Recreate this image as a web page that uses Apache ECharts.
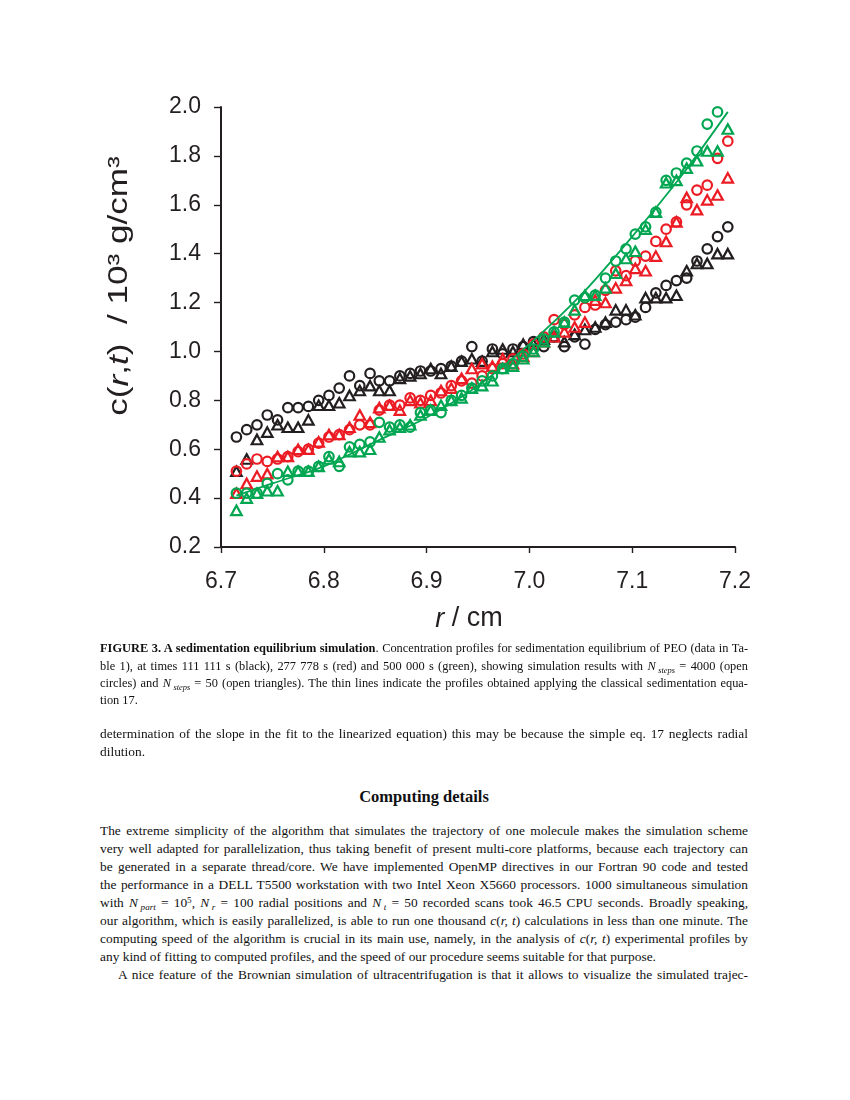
<!DOCTYPE html>
<html><head><meta charset="utf-8">
<script src="https://cdn.jsdelivr.net/npm/echarts@6/dist/echarts.min.js"></script>
<style>
html,body{margin:0;padding:0;background:#fff;}
body{width:850px;height:1100px;position:relative;overflow:hidden;font-family:'Liberation Serif','Times New Roman',serif;color:#111;}
#chart{position:absolute;left:0;top:0;width:850px;height:640px;}
.ln{position:absolute;left:100px;width:648px;height:19px;line-height:19px;white-space:nowrap;}
.cap{font-size:12.4px;}
.bd{font-size:13.4px;}
sub,sup{line-height:0;font-size:0.68em;}
sub{vertical-align:-0.3em;}
sup{vertical-align:0.45em;}
.h{position:absolute;left:100px;width:648px;text-align:center;font-weight:bold;font-size:16.5px;line-height:20px;}
</style></head><body>
<div id="chart"></div>

<div class="ln cap j" style="top:638.5px"><span><b>FIGURE 3. A sedimentation equilibrium simulation</b>. Concentration profiles for sedimentation equilibrium of PEO (data in Ta-</span></div>
<div class="ln cap j" style="top:656.5px"><span>ble 1), at times 111 111 s (black), 277 778 s (red) and 500 000 s (green), showing simulation results with <i>N</i>&#8201;<sub><i>steps</i></sub> = 4000 (open</span></div>
<div class="ln cap j" style="top:673.5px"><span>circles) and <i>N</i>&#8201;<sub><i>steps</i></sub> = 50 (open triangles). The thin lines indicate the profiles obtained applying the classical sedimentation equa-</span></div>
<div class="ln cap" style="top:690.5px"><span>tion 17.</span></div>

<div class="ln bd j" style="top:723.5px"><span>determination of the slope in the fit to the linearized equation) this may be because the simple eq. 17 neglects radial</span></div>
<div class="ln bd" style="top:741.5px"><span>dilution.</span></div>

<div class="h" style="top:787px">Computing details</div>

<div class="ln bd j" style="top:820.5px"><span>The extreme simplicity of the algorithm that simulates the trajectory of one molecule makes the simulation scheme</span></div>
<div class="ln bd j" style="top:838.5px"><span>very well adapted for parallelization, thus taking benefit of present multi-core platforms, because each trajectory can</span></div>
<div class="ln bd j" style="top:856.5px"><span>be generated in a separate thread/core. We have implemented OpenMP directives in our Fortran 90 code and tested</span></div>
<div class="ln bd j" style="top:874.5px"><span>the performance in a DELL T5500 workstation with two Intel Xeon X5660 processors. 1000 simultaneous simulation</span></div>
<div class="ln bd j" style="top:892.5px"><span>with <i>N</i>&#8201;<sub><i>part</i></sub> = 10<sup>5</sup>, <i>N</i>&#8201;<sub><i>r</i></sub> = 100 radial positions and <i>N</i>&#8201;<sub><i>t</i></sub> = 50 recorded scans took 46.5 CPU seconds. Broadly speaking,</span></div>
<div class="ln bd j" style="top:910.5px"><span>our algorithm, which is easily parallelized, is able to run one thousand <i>c</i>(<i>r,</i> <i>t</i>) calculations in less than one minute. The</span></div>
<div class="ln bd j" style="top:928.5px"><span>computing speed of the algorithm is crucial in its main use, namely, in the analysis of <i>c</i>(<i>r,</i> <i>t</i>) experimental profiles by</span></div>
<div class="ln bd" style="top:946.5px"><span>any kind of fitting to computed profiles, and the speed of our procedure seems suitable for that purpose.</span></div>
<div class="ln bd j" style="top:964.5px;left:118px;width:630px"><span>A nice feature of the Brownian simulation of ultracentrifugation is that it allows to visualize the simulated trajec-</span></div>

<script>
// radial positions r (cm) of the simulated points
const r = [6.715,6.725,6.735,6.745,6.755,6.765,6.775,6.785,6.795,6.805,
           6.815,6.825,6.835,6.845,6.854,6.864,6.874,6.884,6.894,6.904,
           6.914,6.924,6.934,6.944,6.954,6.964,6.974,6.984,6.994,7.004,
           7.014,7.024,7.034,7.044,7.054,7.064,7.074,7.084,7.094,7.103,
           7.113,7.123,7.133,7.143,7.153,7.163,7.173,7.183,7.193];

// t = 111 111 s (black)
const blackCircles = [0.65,0.68,0.70,0.74,0.72,0.77,0.77,0.775,0.80,0.82,
                      0.85,0.90,0.86,0.91,0.88,0.88,0.90,0.91,0.92,0.92,
                      0.93,0.94,0.96,1.02,0.96,1.01,0.99,1.01,1.02,1.04,
                      1.02,1.06,1.02,1.06,1.03,1.09,1.11,1.12,1.13,1.14,
                      1.18,1.24,1.27,1.29,1.30,1.37,1.42,1.47,1.51];
const blackTriangles = [0.51,0.56,0.64,0.67,0.70,0.69,0.69,0.72,0.78,0.78,
                        0.79,0.82,0.84,0.86,0.84,0.84,0.89,0.90,0.91,0.93,
                        0.91,0.94,0.96,0.97,0.96,1.00,1.01,1.00,1.03,1.03,
                        1.05,1.06,1.04,1.07,1.09,1.10,1.12,1.17,1.17,1.15,
                        1.22,1.22,1.22,1.23,1.33,1.36,1.36,1.40,1.40];
// t = 277 778 s (red)
const redCircles = [0.51,0.54,0.56,0.55,0.56,0.57,0.59,0.60,0.625,0.65,
                    0.66,0.68,0.70,0.70,0.76,0.78,0.78,0.81,0.80,0.82,
                    0.83,0.86,0.88,0.87,0.90,0.93,0.95,0.97,0.99,1.03,
                    1.06,1.13,1.11,1.15,1.18,1.19,1.25,1.33,1.31,1.37,
                    1.39,1.45,1.50,1.53,1.60,1.66,1.68,1.79,1.86];
const redTriangles = [0.42,0.46,0.49,0.50,0.57,0.57,0.60,0.60,0.63,0.66,
                      0.66,0.69,0.74,0.71,0.77,0.78,0.76,0.80,0.79,0.80,
                      0.84,0.85,0.89,0.93,0.95,0.94,0.97,0.95,0.98,1.00,
                      1.04,1.06,1.08,1.10,1.12,1.21,1.20,1.26,1.29,1.34,
                      1.33,1.39,1.45,1.53,1.63,1.58,1.62,1.64,1.71];
// t = 500 000 s (green)
const greenCircles = [0.42,0.42,0.42,0.46,0.50,0.475,0.51,0.51,0.53,0.57,
                      0.53,0.61,0.62,0.63,0.71,0.69,0.70,0.69,0.75,0.76,
                      0.75,0.80,0.82,0.85,0.88,0.90,0.93,0.95,0.98,1.01,
                      1.05,1.08,1.12,1.21,1.22,1.23,1.30,1.37,1.42,1.48,
                      1.51,1.57,1.70,1.73,1.77,1.82,1.93,1.98,null];
const greenTriangles = [0.35,0.40,0.42,0.43,0.43,0.51,0.51,0.51,0.53,0.56,
                        0.55,0.59,0.59,0.60,0.65,0.68,0.69,0.70,0.74,0.76,
                        0.78,0.80,0.81,0.85,0.86,0.88,0.93,0.94,0.97,1.00,
                        1.04,1.08,1.12,1.17,1.23,1.23,1.26,1.32,1.38,1.41,
                        1.50,1.57,1.69,1.70,1.75,1.78,1.82,1.82,1.91];
// classical sedimentation-equation profile (thin green line)
const lineR = [6.715,6.75,6.80,6.85,6.90,6.95,7.00,7.05,7.10,7.15,7.193];
const lineC = [0.41,0.46,0.53,0.63,0.73,0.86,1.03,1.23,1.47,1.73,1.98];

const xTicks = ['6.7','6.8','6.9','7.0','7.1','7.2'];
const yTicks = ['0.2','0.4','0.6','0.8','1.0','1.2','1.4','1.6','1.8','2.0'];

const BLACK = '#231f20', RED = '#ec1c24', GREEN = '#00a651';
const SANS = "'Liberation Sans', Arial, Helvetica, sans-serif";

function pairs(xs, vals) {
  const out = [];
  vals.forEach((v, i) => { if (v !== null) out.push([xs[i], v]); });
  return out;
}
function sc(vals, color, shape) {
  return {
    type: 'scatter', data: pairs(r, vals),
    symbol: shape === 'c' ? 'circle' : 'triangle',
    symbolSize: shape === 'c' ? 9.5 : [10.5, 9.5],
    itemStyle: { color: 'rgba(0,0,0,0)', borderColor: color, borderWidth: 2.2, opacity: 1 },
    silent: true
  };
}

const chart = echarts.init(document.getElementById('chart'));
chart.setOption({
  animation: false,
  grid: { left: 221, right: 115, top: 107, bottom: 93 },
  xAxis: {
    type: 'value', min: 6.7, max: 7.2, interval: 0.1,
    axisLine: { onZero: false, lineStyle: { color: BLACK, width: 2 } },
    axisTick: { length: 6, lineStyle: { color: BLACK, width: 1.4 } },
    splitLine: { show: false },
    axisLabel: { fontSize: 23, fontFamily: SANS, color: BLACK, margin: 23,
      formatter: v => xTicks[Math.round((v - 6.7) * 10)] }
  },
  yAxis: {
    type: 'value', min: 0.2, max: 2.0, interval: 0.2,
    axisLine: { onZero: false, lineStyle: { color: BLACK, width: 2 } },
    axisTick: { length: 7, lineStyle: { color: BLACK, width: 1.4 } },
    splitLine: { show: false },
    axisLabel: { fontSize: 23, fontFamily: SANS, color: BLACK, margin: 20,
      formatter: v => yTicks[Math.round((v - 0.2) * 5)] }
  },
  series: [
    sc(blackCircles, BLACK, 'c'),
    sc(blackTriangles, BLACK, 't'),
    sc(redCircles, RED, 'c'),
    sc(redTriangles, RED, 't'),
    sc(greenCircles, GREEN, 'c'),
    sc(greenTriangles, GREEN, 't'),
    { type: 'line', data: pairs(lineR, lineC), smooth: 0.3, showSymbol: false,
      lineStyle: { color: GREEN, width: 1.8 }, silent: true }
  ],
  graphic: [
    { type: 'text', x: 120, y: 286, rotation: Math.PI / 2, scaleX: 1.3, scaleY: 1,
      style: { text: '{a|c(}{b|r}{a|,}{b|t}{a|)  / 10³ g/cm³}',
        align: 'center', verticalAlign: 'middle', textAlign: 'center', textVerticalAlign: 'middle',
        fill: BLACK,
        rich: {
          a: { fontSize: 27, fontFamily: SANS, fill: BLACK, color: BLACK },
          b: { fontSize: 27, fontFamily: SANS, fontStyle: 'italic', fill: BLACK, color: BLACK }
        } } },
    { type: 'text', x: 469, y: 619,
      style: { text: '{b|r}{a| / cm}',
        align: 'center', verticalAlign: 'middle', textAlign: 'center', textVerticalAlign: 'middle',
        fill: BLACK,
        rich: {
          a: { fontSize: 27, fontFamily: SANS, fill: BLACK, color: BLACK },
          b: { fontSize: 27, fontFamily: SANS, fontStyle: 'italic', fill: BLACK, color: BLACK }
        } } }
  ]
});

// justify each typeset line to its box width
document.querySelectorAll('.j').forEach(el => {
  const s = el.firstElementChild;
  s.style.wordSpacing = '0px';
  const W = el.clientWidth;
  const w = s.getBoundingClientRect().width;
  const n = (s.textContent.match(/ /g) || []).length;
  if (n > 0) s.style.wordSpacing = ((W - w) / n) + 'px';
});
</script>
</body></html>
